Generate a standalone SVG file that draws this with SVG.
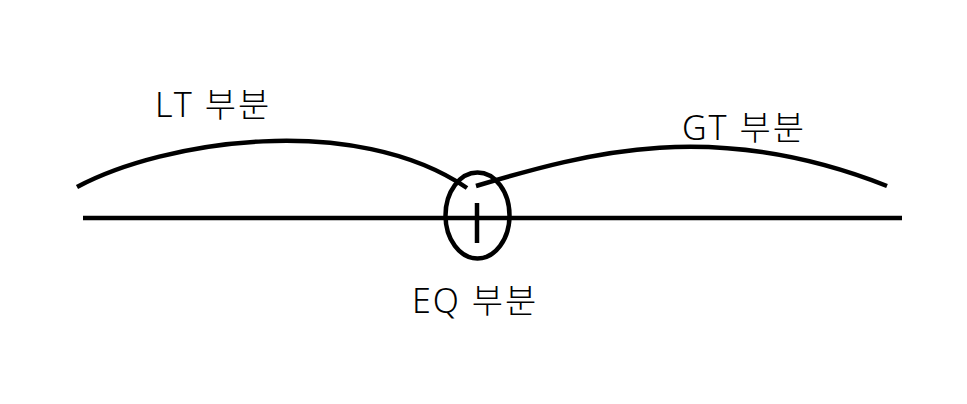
<svg xmlns="http://www.w3.org/2000/svg" width="967" height="404" viewBox="0 0 967 404">
<style>
.ln{fill:none;stroke:#000;stroke-width:4.5;stroke-linecap:butt}
.lb{font-family:"Noto Sans","Noto Sans CJK KR",sans-serif;font-size:34px;font-weight:300;fill:#000;letter-spacing:2px}
</style>
<rect width="967" height="404" fill="#fff"/>
<g id="connectors">
<path class="ln" d="M83,218 H902"/>
<path class="ln" d="M77,187 C165,140 355,112 467,188"/>
<path class="ln" d="M476,186 C590,152 715,118 887,186"/>
</g>
<g id="eq">
<ellipse class="ln" cx="477.5" cy="215.5" rx="32" ry="43"/>
<path class="ln" d="M477,203 V243"/>
<text class="lb" x="412" y="313">EQ 부분</text>
</g>
<g id="lt"><text class="lb" x="155" y="117">LT 부분</text></g>
<g id="gt"><text class="lb" x="682" y="140">GT 부분</text></g>
</svg>
